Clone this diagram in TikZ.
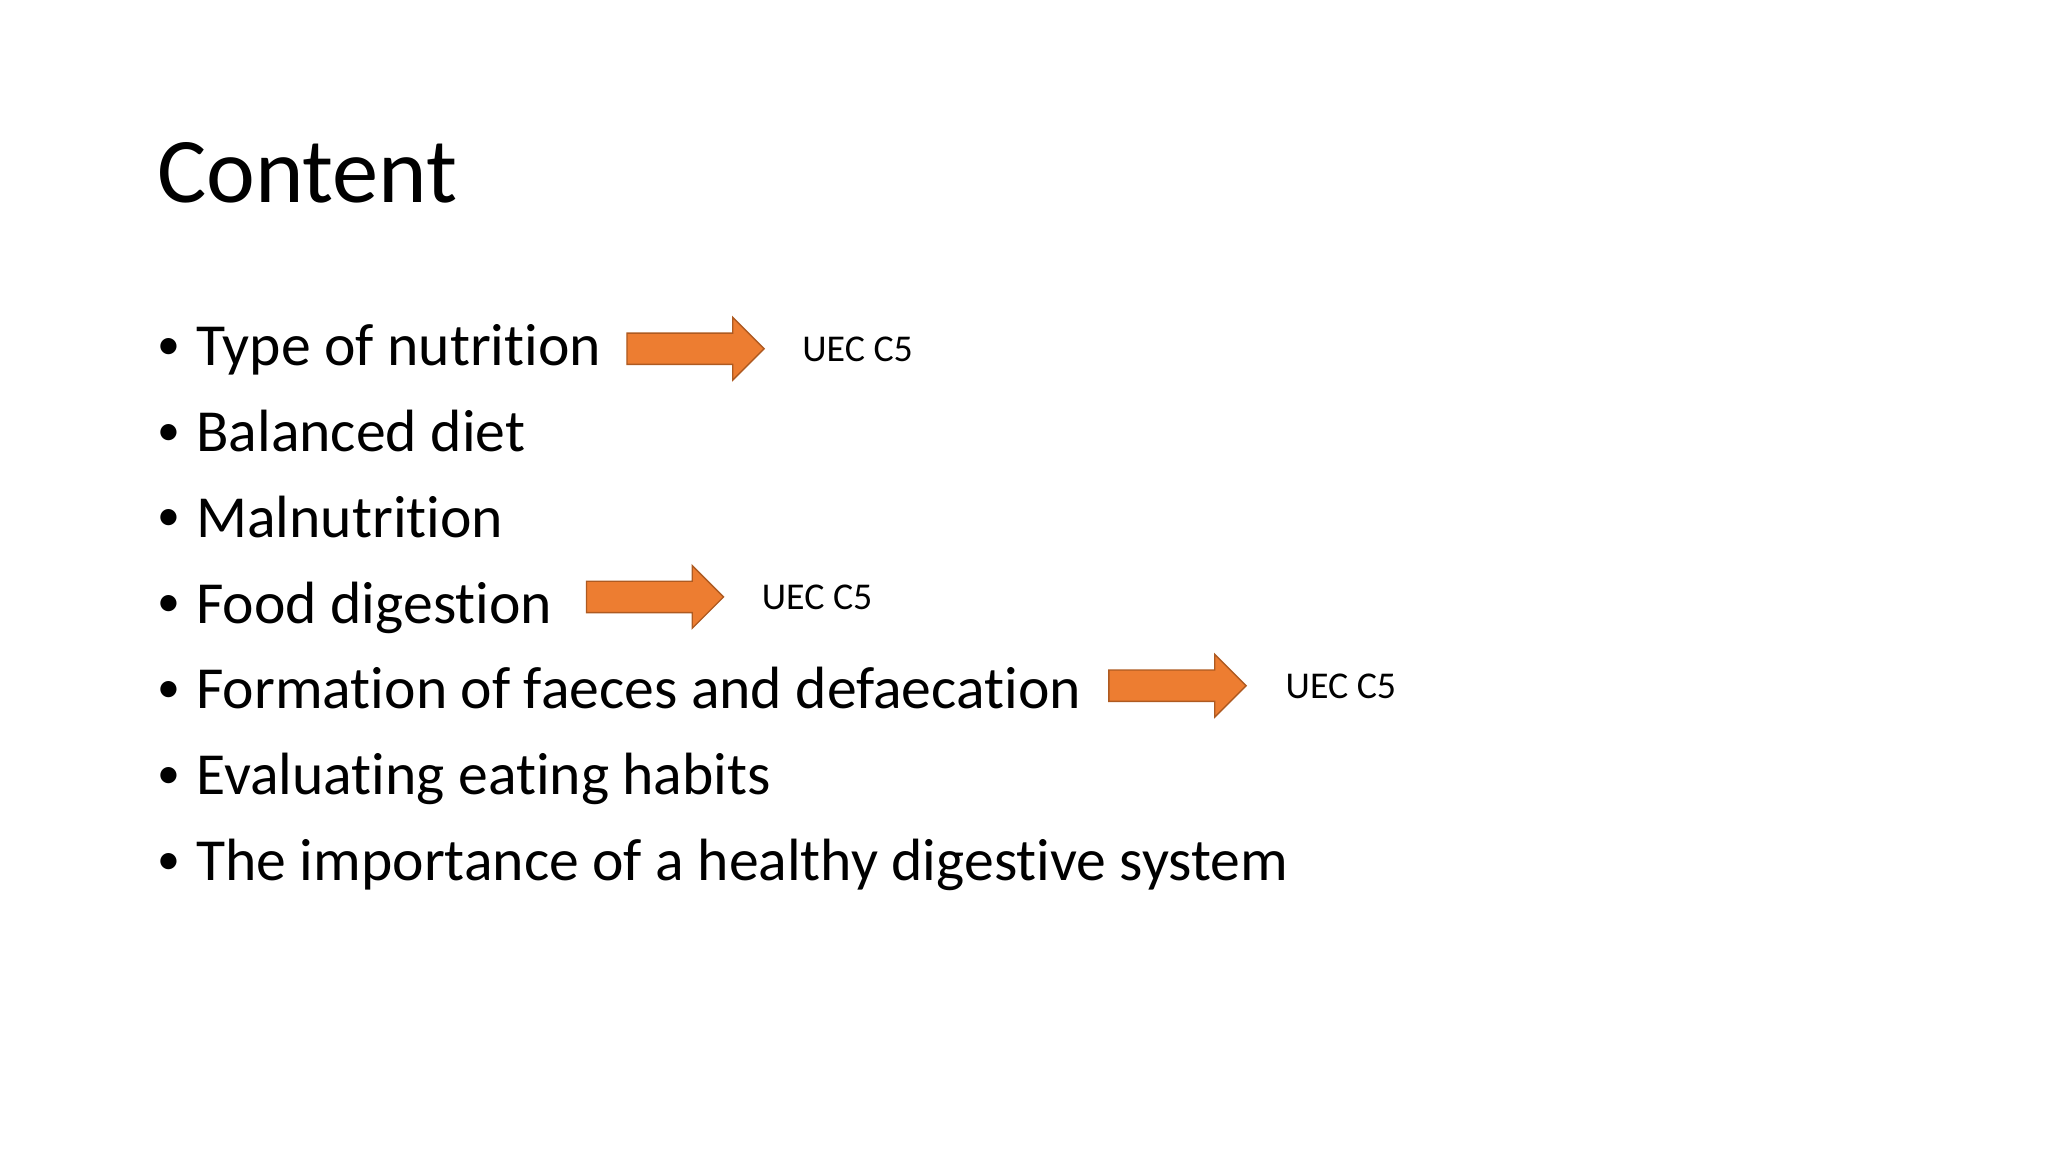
\documentclass[tikz,border=0pt]{standalone}
\usepackage{fontspec}
\setmainfont[Ligatures=NoCommon]{Carlito}
\definecolor{arrfill}{HTML}{ED7D31}
\definecolor{arrline}{HTML}{AE5A21}
\begin{document}
\begin{tikzpicture}[x=0.02cm,y=-0.02cm,
  item/.style={anchor=base west,inner sep=0,font=\fontsize{26}{32}\selectfont},
  dot/.style={anchor=base west,inner sep=0,font=\fontsize{20}{24}\selectfont},
  tag/.style={anchor=base west,inner sep=0,font=\fontsize{16.5}{20}\selectfont},
  blockarrow/.style={fill=arrfill,draw=arrline,line width=0.6pt}]
\useasboundingbox (0,0) rectangle (1568,882);
\node[anchor=base west,inner sep=0,font=\fontsize{40.3}{48}\selectfont] (title) at (120,155) {Content};
\foreach \t [count=\i] in {Type of nutrition,Balanced diet,Malnutrition,Food digestion,Formation of faeces and defaecation,Evaluating eating habits,The importance of a healthy digestive system}{
  \node[dot] (d\i) at (120,{275+65.7*(\i-1)}) {•};
  \node[item] (b\i) at (150,{280+65.7*(\i-1)}) {\t};
}
\foreach \x/\y/\n in {480/267/a1,449/457/a2,849/525/a3}{
  \draw[blockarrow] (\x,\y-12) -- (\x+81,\y-12) -- (\x+81,\y-24) -- (\x+105,\y) -- (\x+81,\y+24) -- (\x+81,\y+12) -- (\x,\y+12) -- cycle;
  \coordinate (\n) at (\x+105,\y);
}
\node[tag] (u1) at (614,277) {UEC C5};
\node[tag] (u2) at (583,467) {UEC C5};
\node[tag] (u3) at (984,535) {UEC C5};
\end{tikzpicture}
\end{document}
